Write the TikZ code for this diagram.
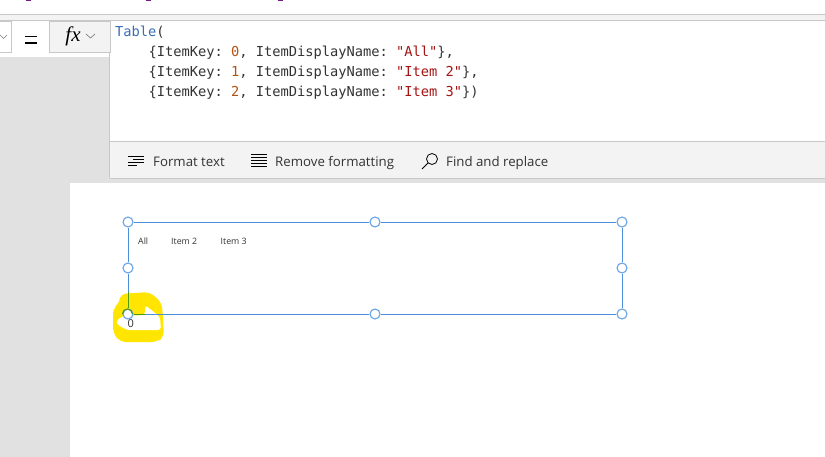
\documentclass[tikz,border=0pt]{standalone}
\usepackage{fontspec}
\setmainfont{Open Sans}
\setmonofont{DejaVu Sans Mono}
\newfontfamily\fxfont{Liberation Serif}
\usetikzlibrary{positioning}
\definecolor{paneGray}{HTML}{E1E1E1}
\definecolor{barGray}{HTML}{F3F3F3}
\definecolor{edgeGray}{HTML}{C8C8C8}
\definecolor{selBlue}{HTML}{4A90DC}
\definecolor{ringBlue}{HTML}{68A4E6}
\definecolor{markYellow}{HTML}{FFE500}
\definecolor{markGreen}{HTML}{4E9A10}
\definecolor{keyBlue}{HTML}{3A6DB5}
\definecolor{numBrown}{HTML}{B5520F}
\definecolor{strRed}{HTML}{A31515}
\definecolor{inkGray}{HTML}{333333}
\definecolor{capPurple}{HTML}{7A1A8A}
\tikzset{
  handle/.style={draw=ringBlue, fill=white, circle, line width=1.1pt, minimum size=10pt, inner sep=0pt},
  codeline/.style={anchor=base west, inner sep=0pt, font=\ttfamily\fontsize{13.7}{16}\selectfont, text=inkGray},
  toolitem/.style={anchor=base west, inner sep=0pt, font=\fontsize{13.25}{16}\selectfont, text=inkGray},
  tabitem/.style={anchor=base west, inner sep=0pt, font=\fontsize{8.8}{10}\selectfont, text=inkGray},
}
\newcommand\kw[1]{\textcolor{keyBlue}{#1}}
\newcommand\nm[1]{\textcolor{numBrown}{#1}}
\newcommand\st[1]{\textcolor{strRed}{#1}}
\begin{document}
\begin{tikzpicture}[x=1pt, y=-1pt]
\useasboundingbox (0,0) rectangle (825,457);
% window panes
\fill[white] (0,0) rectangle (825,457);
\fill[paneGray] (0,57) rectangle (110,457);
\fill[paneGray] (110,178) rectangle (825,183);
\fill[white] (70,183) rectangle (825,457);
\fill[barGray] (0,14) rectangle (825,20);
\draw[edgeGray] (0,14.5) -- (825,14.5);
\draw[edgeGray] (0,20.5) -- (825,20.5);
\fill[barGray] (110,142) rectangle (825,178);
\draw[edgeGray] (110,141.5) -- (825,141.5);
\draw[edgeGray] (110,178.5) -- (825,178.5);
\draw[edgeGray] (109.5,20) -- (109.5,178);
% purple bits of the cut off text
\foreach \px in {28,148,280}
  \fill[capPurple] (\px-2.5,0) rectangle (\px+2.5,1.5);
% formula bar
\draw[edgeGray, fill=white] (-2,21.5) rectangle (11.5,52.5);
\draw[gray, line width=.7pt] (0,35) -- (3.5,38.5) -- (7,35);
\draw[black, line width=1.4pt] (25,36.5) -- (37,36.5);
\draw[black, line width=1.4pt] (25,43) -- (37,43);
\draw[edgeGray, fill=barGray] (49.5,21.5) rectangle (110,52.5);
\node[inner sep=0pt, font=\fxfont\itshape\fontsize{21}{21}\selectfont, text=black] (fx) at (73,36) {fx};
\draw[gray, line width=.7pt] (86,34) -- (90.5,38) -- (95,34);
% code
\node[codeline] (code1) at (115,37) {\kw{Table}(};
\node[codeline] (code2) at (148.5,57) {\{ItemKey: \nm{0}, ItemDisplayName: \st{"All"}\},};
\node[codeline] (code3) at (148.5,77) {\{ItemKey: \nm{1}, ItemDisplayName: \st{"Item 2"}\},};
\node[codeline] (code4) at (148.5,97) {\{ItemKey: \nm{2}, ItemDisplayName: \st{"Item 3"}\})};
% toolbar
\foreach \ly/\lx/\lw in {156/128/16, 159/133/11, 162/128/16, 165/128/9}
  \draw[black, line width=.8pt] (\lx,\ly) -- ++(\lw,0);
\node[toolitem] (fmt) at (153,167) {Format text};
\foreach \ly in {154,157,160,163,166}
  \draw[black, line width=.8pt] (251,\ly) -- (267,\ly);
\node[toolitem] (rem) at (275,167) {Remove formatting};
\draw[black, line width=.8pt] (432,159) circle (5.5);
\draw[black, line width=.8pt] (428,163) -- (422,169);
\node[toolitem] (fnd) at (446,167) {Find and replace};
% yellow mark
\fill[markYellow, rounded corners=6pt] (120,294) -- (150,292) -- (162,303) -- (164,337)
  -- (157,342) -- (120,342) -- (113,333) -- (113,308) -- (120,303) -- cycle;
\fill[white, rounded corners=3pt] (116,321) -- (123,316) -- (145,315) -- (145,305) -- (160,317) -- (161,330)
  -- (127,330) -- (118,325) -- cycle;
% selection box
\node[handle] (tl) at (128,222) {};
\node[handle] (tm) at (375,222) {};
\node[handle] (tr) at (622,222) {};
\node[handle] (ml) at (128,268) {};
\node[handle] (mr) at (622,268) {};
\node[handle] (bl) at (128,314) {};
\node[handle] (bm) at (375,314) {};
\node[handle] (br) at (622,314) {};
\draw[selBlue] (tl) -- (tm);
\draw[selBlue] (tm) -- (tr);
\draw[selBlue] (tr) -- (mr);
\draw[selBlue] (mr) -- (br);
\draw[selBlue] (br) -- (bm);
\draw[selBlue] (bm) -- (bl);
\draw[selBlue] (bl) -- (ml);
\draw[selBlue] (ml) -- (tl);
% where the mark lies over the box
\coordinate (gtop) at (128,292);
\coordinate (gend) at (145,314);
\draw[markGreen] (gtop) -- (bl.north);
\draw[markGreen] (bl.east) -- (gend);
\draw[markGreen, line width=1.1pt] (bl.west) arc[start angle=180, end angle=0, radius=5pt];
% tabs
\node[tabitem] (t1) at (138,245) {All};
\node[tabitem] (t2) at (171,245) {Item 2};
\node[tabitem] (t3) at (220.5,245) {Item 3};
\node[tabitem, font=\fontsize{11}{11}\selectfont] (t0) at (127.5,327) {0};
\end{tikzpicture}
\end{document}
